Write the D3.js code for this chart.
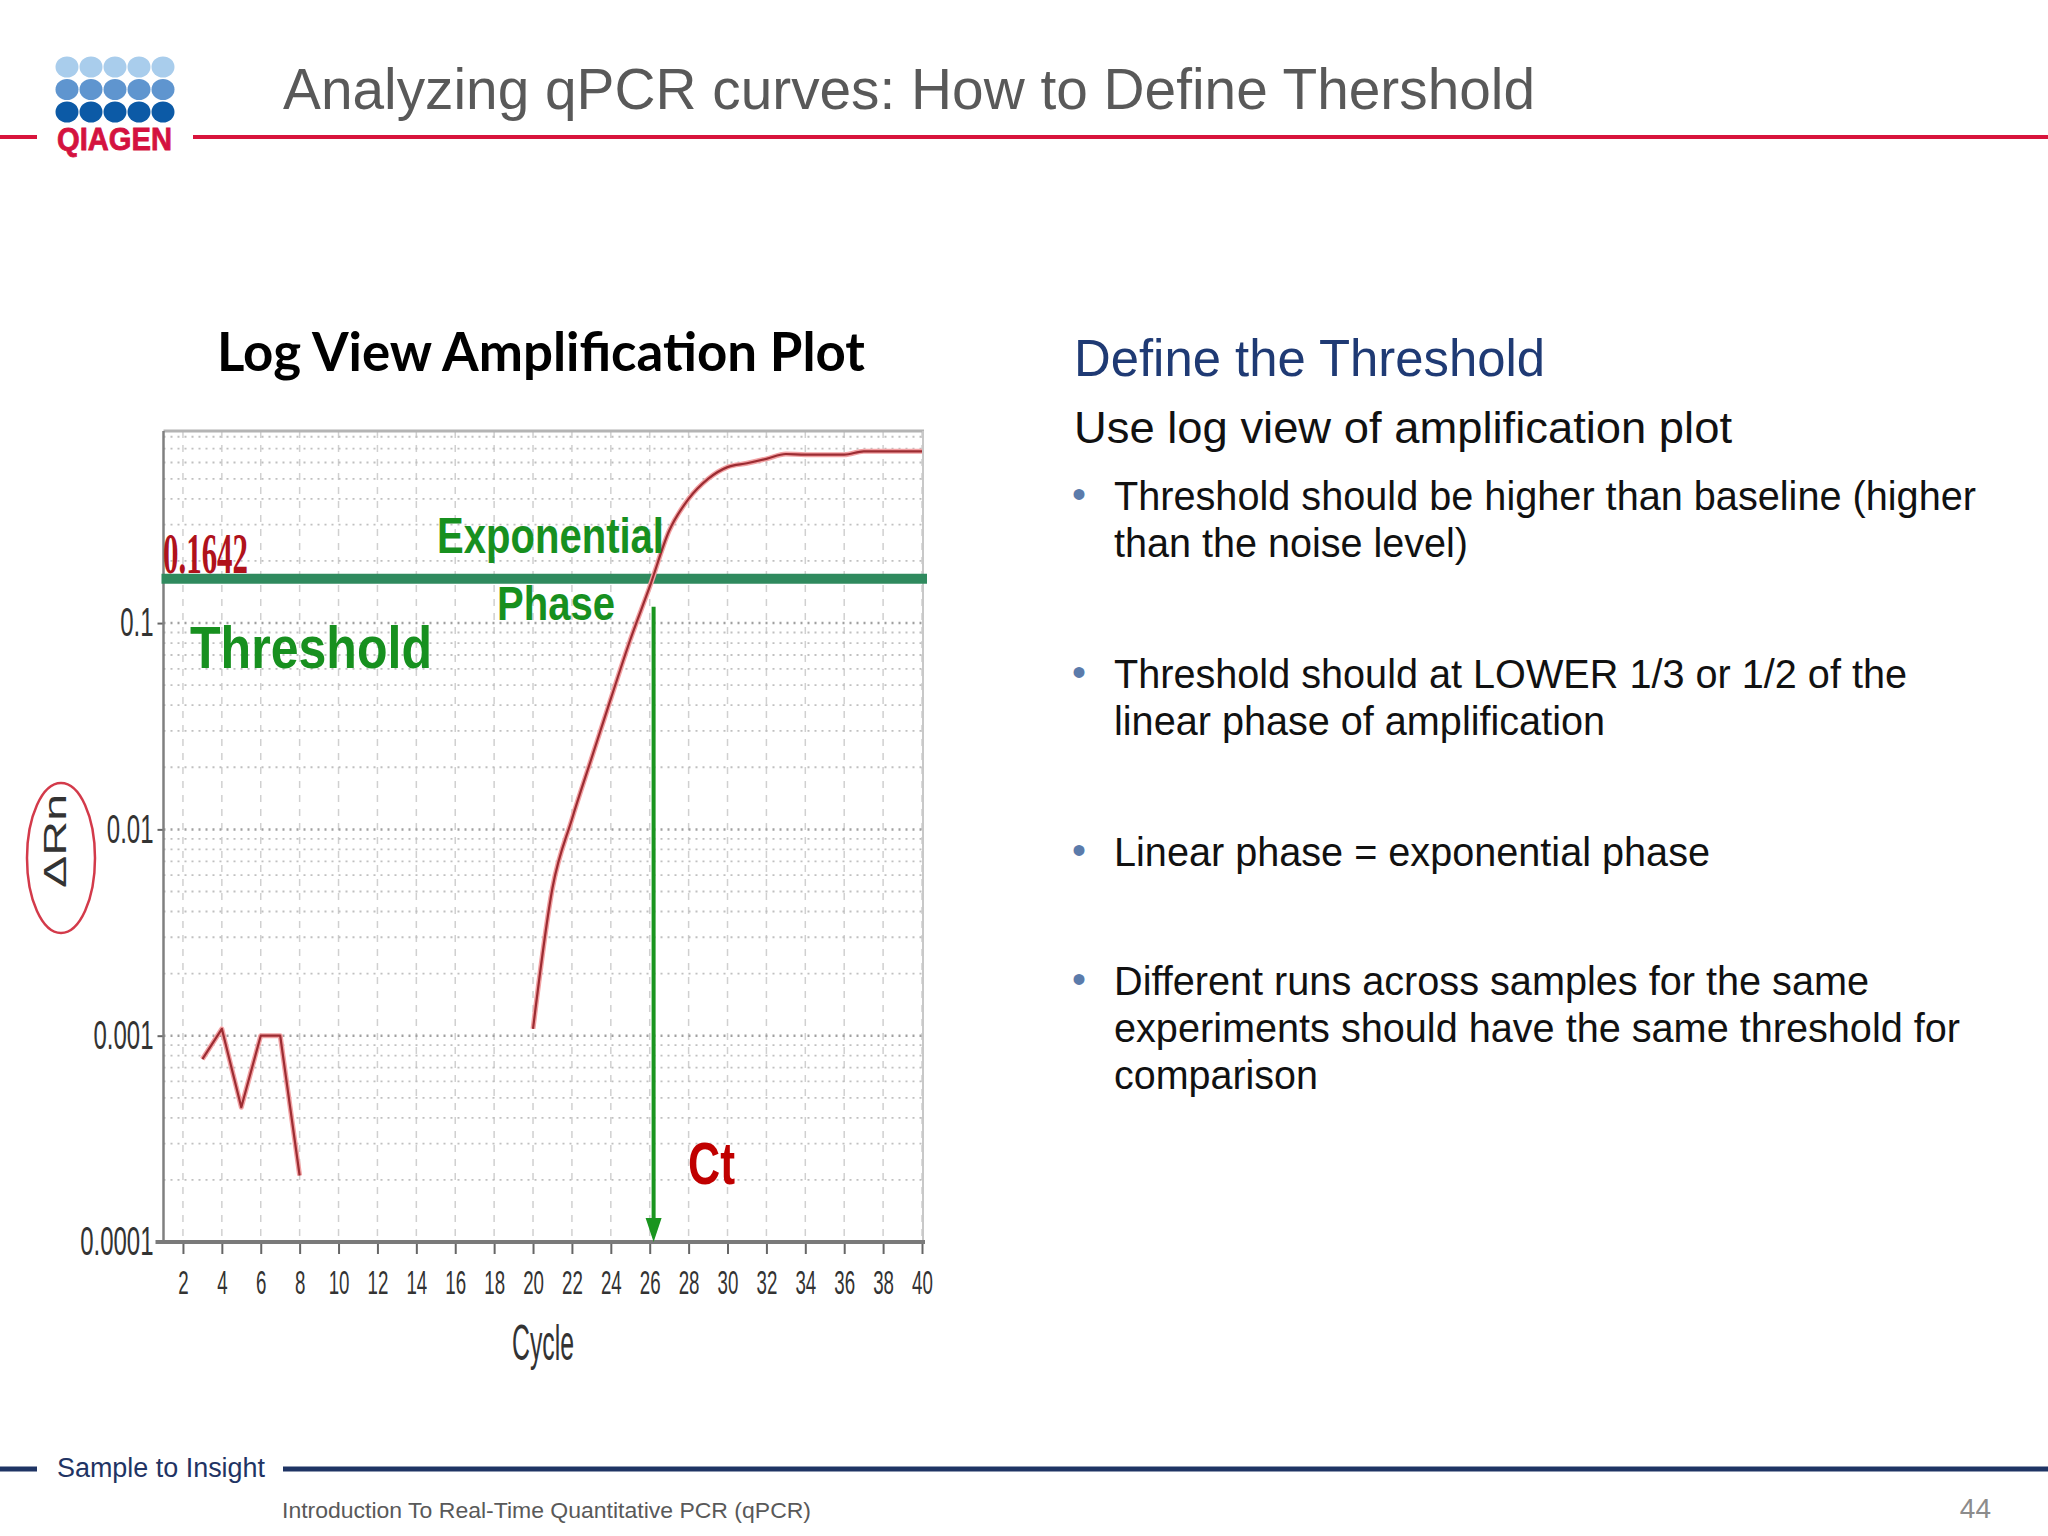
<!DOCTYPE html>
<html>
<head>
<meta charset="utf-8">
<title>Analyzing qPCR curves</title>
<script src="https://cdn.jsdelivr.net/npm/d3@7"></script>
<style>
  html, body { margin: 0; padding: 0; background: #fff; }
  svg { display: block; }
</style>
</head>
<body>
<div id="slide"></div>
<script>
// Log view amplification plot

const baselineCycles = [3, 4, 5, 6, 7, 8];
const baselineRn = [0.00077, 0.00108, 0.00045, 0.00100, 0.00100, 0.00021];

const ampCycles = [20, 21, 22, 23, 24, 25, 26, 27, 28, 29, 30, 31, 32, 33, 34, 35, 36, 37, 38, 39, 40];
const ampRn = [0.00108, 0.0052, 0.0112, 0.022, 0.043, 0.083, 0.150, 0.28, 0.40, 0.50, 0.57,
               0.595, 0.625, 0.66, 0.655, 0.655, 0.655, 0.68, 0.68, 0.68, 0.68];

const thresholdValue = 0.1642;
const ctCycle = 26.2;

const xTicks = [2, 4, 6, 8, 10, 12, 14, 16, 18, 20, 22, 24, 26, 28, 30, 32, 34, 36, 38, 40];
const yTicks = [0.1, 0.01, 0.001, 0.0001];
const yTickLabels = ['0.1', '0.01', '0.001', '0.0001'];

const bulletItems = [
  ['Threshold should be higher than baseline (higher', 'than the noise level)'],
  ['Threshold should at LOWER 1/3 or 1/2 of the', 'linear phase of amplification'],
  ['Linear phase = exponential phase'],
  ['Different runs across samples for the same', 'experiments should have the same threshold for', 'comparison']
];

// ---------------------------------------------------------------

const W = 2048, H = 1536;
const SANS = '"Liberation Sans", Arial, sans-serif';

const svg = d3.select('#slide').append('svg')
  .attr('width', W)
  .attr('height', H)
  .attr('viewBox', `0 0 ${W} ${H}`)
  .style('font-family', SANS);

svg.append('rect').attr('width', W).attr('height', H).attr('fill', '#ffffff');

function label(parent, x, y, str, o) {
  const t = parent.append('text')
    .attr('x', x)
    .attr('y', y)
    .attr('font-size', o.size)
    .attr('fill', o.fill || '#000')
    .attr('font-weight', o.weight || 'normal')
    .attr('font-family', o.family || SANS)
    .attr('text-anchor', o.anchor || 'start')
    .text(str);
  if (o.len) t.attr('textLength', o.len).attr('lengthAdjust', 'spacingAndGlyphs');
  return t;
}

// header: logo, title, red rule
const logo = svg.append('g');
const dotColors = ['#a9cdec', '#5f95cf', '#0c5aa6'];
dotColors.forEach((c, r) => {
  for (let i = 0; i < 5; i++) {
    logo.append('ellipse')
      .attr('cx', 67 + i * 24)
      .attr('cy', 67 + r * 22.5)
      .attr('rx', 11.5)
      .attr('ry', 10.5)
      .attr('fill', c);
  }
});
svg.append('line').attr('x1', 0).attr('x2', 37).attr('y1', 137).attr('y2', 137)
  .attr('stroke', '#d8143c').attr('stroke-width', 4);
svg.append('line').attr('x1', 193).attr('x2', W).attr('y1', 137).attr('y2', 137)
  .attr('stroke', '#d8143c').attr('stroke-width', 4);
label(logo, 57, 150, 'QIAGEN', { size: 32, weight: 'bold', fill: '#d4123f', len: 115 })
  .attr('stroke', '#d4123f').attr('stroke-width', 0.8);

label(svg, 283, 109, 'Analyzing qPCR curves: How to Define Thershold', { size: 57, fill: '#595959', len: 1252 });

// footer
svg.append('line').attr('x1', 0).attr('x2', 37).attr('y1', 1469).attr('y2', 1469)
  .attr('stroke', '#1f3464').attr('stroke-width', 5);
svg.append('line').attr('x1', 283).attr('x2', W).attr('y1', 1469).attr('y2', 1469)
  .attr('stroke', '#1f3464').attr('stroke-width', 5);
label(svg, 57, 1477, 'Sample to Insight', { size: 27, fill: '#1f3464', len: 208 });
label(svg, 282, 1518, 'Introduction To Real-Time Quantitative PCR (qPCR)', { size: 22, fill: '#595959', len: 529 });
label(svg, 1991, 1518, '44', { size: 28, fill: '#8c8c8c', anchor: 'end' });

// right column text
label(svg, 1074, 376, 'Define the Threshold', { size: 52, fill: '#1f3a74', len: 471 });
label(svg, 1074, 443, 'Use log view of amplification plot', { size: 45, fill: '#111', len: 658 });

const bulletTops = [510, 688, 866, 995];
const bulletLens = [[862, 354], [793, 491], [596], [755, 846, 204]];
bulletItems.forEach((lines, i) => {
  label(svg, 1072, bulletTops[i] - 2, '\u2022', { size: 40, fill: '#5b7bab' });
  lines.forEach((ln, j) => {
    label(svg, 1114, bulletTops[i] + j * 47, ln, { size: 40, fill: '#111', len: bulletLens[i][j] });
  });
});

// ---------------------------------------------------------------
// chart
label(svg, 541, 371, 'Log View Amplification Plot',
  { size: 54, weight: 'bold', fill: '#000', anchor: 'middle', family: 'Lato, "Open Sans", sans-serif', len: 648 });

const plot = { left: 163.5, right: 922, top: 431, bottom: 1242 };

const x = d3.scaleLinear().domain([1, 40]).range([plot.left, plot.right]);
const y = d3.scaleLog().domain([0.0001, 0.853]).range([plot.bottom, plot.top]);

const chart = svg.append('g');

// grid
chart.append('g').selectAll('line')
  .data(xTicks)
  .join('line')
  .attr('x1', d => x(d)).attr('x2', d => x(d))
  .attr('y1', plot.top).attr('y2', plot.bottom)
  .attr('stroke', '#d0d0d0')
  .attr('stroke-width', 1.5)
  .attr('stroke-dasharray', '7,7');

const minor = y.ticks().filter(v => v > 0.0001 && v < 0.853);
chart.append('g').selectAll('line')
  .data(minor)
  .join('line')
  .attr('x1', plot.left).attr('x2', plot.right)
  .attr('y1', d => y(d)).attr('y2', d => y(d))
  .attr('stroke', d => yTicks.includes(d) ? '#a0a0a0' : '#c0c0c0')
  .attr('stroke-width', d => yTicks.includes(d) ? 2.5 : 1.8)
  .attr('stroke-dasharray', '2,5');

// frame
chart.append('line').attr('x1', plot.left).attr('x2', plot.right + 2)
  .attr('y1', plot.top).attr('y2', plot.top)
  .attr('stroke', '#b4b4b4').attr('stroke-width', 3);
chart.append('line').attr('x1', plot.right + 1).attr('x2', plot.right + 1)
  .attr('y1', plot.top).attr('y2', plot.bottom)
  .attr('stroke', '#c8c8c8').attr('stroke-width', 2);

// axes
const xAxis = chart.append('g')
  .attr('transform', `translate(0,${plot.bottom})`)
  .call(d3.axisBottom(x).tickValues(xTicks).tickSize(12).tickPadding(16).tickSizeOuter(0));
xAxis.select('.domain').remove();
xAxis.selectAll('.tick line').attr('stroke', '#666').attr('stroke-width', 2);
xAxis.selectAll('.tick text')
  .attr('font-size', 34)
  .attr('fill', '#333')
  .attr('font-family', SANS)
  .attr('transform', 'scale(0.55,1)');

const yAxis = chart.append('g')
  .attr('transform', `translate(${plot.left},0)`)
  .call(d3.axisLeft(y).tickValues(yTicks).tickFormat(d => yTickLabels[yTicks.indexOf(d)]).tickSize(6).tickSizeOuter(0));
yAxis.select('.domain').remove();
yAxis.selectAll('.tick line').attr('stroke', '#666').attr('stroke-width', 2);
yAxis.selectAll('.tick text')
  .attr('x', 0)
  .attr('font-size', 40)
  .attr('fill', '#333')
  .attr('font-family', SANS)
  .attr('transform', 'translate(-10,0) scale(0.6,1)');

chart.append('line').attr('x1', plot.left).attr('x2', plot.left)
  .attr('y1', plot.top).attr('y2', plot.bottom)
  .attr('stroke', '#808080').attr('stroke-width', 2.5);
chart.append('line').attr('x1', plot.left - 8).attr('x2', plot.right + 3)
  .attr('y1', plot.bottom).attr('y2', plot.bottom)
  .attr('stroke', '#7a7a7a').attr('stroke-width', 4);

// axis titles
label(chart, 543, 1360, 'Cycle', { size: 50, fill: '#333', anchor: 'middle', len: 62 });
chart.append('ellipse')
  .attr('cx', 61).attr('cy', 858).attr('rx', 34).attr('ry', 75)
  .attr('fill', 'none').attr('stroke', '#d33a4a').attr('stroke-width', 2.5);
label(chart, 0, 0, '\u0394Rn', { size: 31, fill: '#333', anchor: 'middle', len: 94 })
  .attr('transform', 'translate(66,841) rotate(-90)');

// threshold
chart.append('line')
  .attr('x1', plot.left - 2).attr('x2', plot.right + 5)
  .attr('y1', y(thresholdValue)).attr('y2', y(thresholdValue))
  .attr('stroke', '#2f8a5e').attr('stroke-width', 10);

// amplification curve
const lineLin = d3.line().x(d => x(d[0])).y(d => y(d[1]));
const lineSmooth = d3.line().x(d => x(d[0])).y(d => y(d[1])).curve(d3.curveMonotoneX);

const base = d3.zip(baselineCycles, baselineRn);
const amp = d3.zip(ampCycles, ampRn);

[[base, lineLin], [amp, lineSmooth]].forEach(([pts, gen]) => {
  chart.append('path').datum(pts)
    .attr('fill', 'none').attr('stroke', '#f2a2a4').attr('stroke-width', 5)
    .attr('stroke-linejoin', 'round').attr('d', gen);
  chart.append('path').datum(pts)
    .attr('fill', 'none').attr('stroke', '#9c2c32').attr('stroke-width', 2.2)
    .attr('stroke-linejoin', 'round').attr('d', gen);
});

// Ct arrow
const ax = x(ctCycle);
chart.append('line')
  .attr('x1', ax).attr('x2', ax)
  .attr('y1', y(0.12)).attr('y2', plot.bottom - 18)
  .attr('stroke', '#1a951f').attr('stroke-width', 4);
chart.append('path')
  .attr('d', `M${ax - 8},${plot.bottom - 24} L${ax + 8},${plot.bottom - 24} L${ax},${plot.bottom} Z`)
  .attr('fill', '#1a951f');

// annotations
const GREEN = '#17901f';
label(chart, 163, 573, '0.1642',
  { size: 58, weight: 'bold', fill: '#b0121b', family: '"Liberation Serif", "DejaVu Serif", serif', len: 85 });
label(chart, 437, 553, 'Exponential', { size: 50, weight: 'bold', fill: GREEN, len: 227 });
label(chart, 497, 620, 'Phase', { size: 48, weight: 'bold', fill: GREEN, len: 118 });
label(chart, 190, 668, 'Threshold', { size: 60, weight: 'bold', fill: GREEN, len: 242 });
label(chart, 688, 1184, 'Ct', { size: 60, weight: 'bold', fill: '#c00000', len: 47 });
</script>
</body>
</html>
